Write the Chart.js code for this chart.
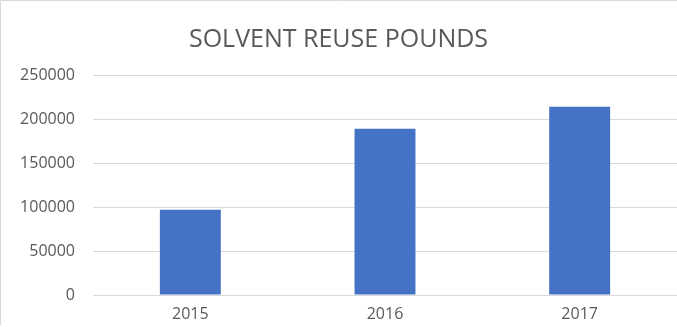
<!DOCTYPE html>
<html>
<head>
<meta charset="utf-8">
<script src="https://cdn.jsdelivr.net/npm/chart.js@4"></script>
<style>
html,body{margin:0;padding:0;background:#fff;}
#wrap{width:677px;height:327px;position:relative;}
</style>
</head>
<body>
<div id="wrap"><canvas id="c" width="677" height="327"></canvas></div>
<script>
const categories = ['2015', '2016', '2017'];
const solventReuse = [97000, 189000, 214000];
const yTicks = [0, 50000, 100000, 150000, 200000, 250000];
const chartTitle = 'SOLVENT REUSE POUNDS';

const borderPlugin = {
  id: 'frame',
  beforeDraw(chart) {
    const ctx = chart.ctx;
    ctx.save();
    ctx.fillStyle = '#ffffff';
    ctx.fillRect(0, 0, chart.width, chart.height);
    ctx.strokeStyle = '#d9d9d9';
    ctx.lineWidth = 1;
    ctx.beginPath();
    ctx.moveTo(0.5, 325);
    ctx.lineTo(0.5, 0.5);
    ctx.lineTo(chart.width, 0.5);
    ctx.stroke();
    ctx.restore();
  }
};

new Chart(document.getElementById('c'), {
  type: 'bar',
  data: {
    labels: categories,
    datasets: [{
      data: solventReuse,
      backgroundColor: '#4472c4',
      barPercentage: 0.313,
      categoryPercentage: 1
    }]
  },
  options: {
    responsive: false,
    animation: false,
    layout: { padding: { left: 0, right: 0, top: 0, bottom: 0 } },
    plugins: {
      legend: { display: false },
      tooltip: { enabled: false },
      title: {
        display: true,
        text: chartTitle,
        color: '#595959',
        font: { family: 'Open Sans', size: 25, weight: '400' },
        padding: { top: 25, bottom: 20 }
      }
    },
    scales: {
      x: {
        grid: { display: false, drawTicks: false },
        border: { display: true, color: '#d9d9d9', width: 1 },
        ticks: { color: '#595959', font: { family: 'Open Sans', size: 16 }, padding: 10 },
        afterFit(s) { s.height = 32; }
      },
      y: {
        min: 0,
        max: 250000,
        afterBuildTicks(s) { s.ticks = yTicks.map(v => ({ value: v })); },
        grid: { color: '#d9d9d9', lineWidth: 1, drawTicks: false },
        border: { display: false },
        ticks: { color: '#595959', font: { family: 'Open Sans', size: 16 }, padding: 18,
          callback: v => String(v) },
        afterFit(s) { s.width = 93; }
      }
    }
  },
  plugins: [borderPlugin]
});
</script>
</body>
</html>
